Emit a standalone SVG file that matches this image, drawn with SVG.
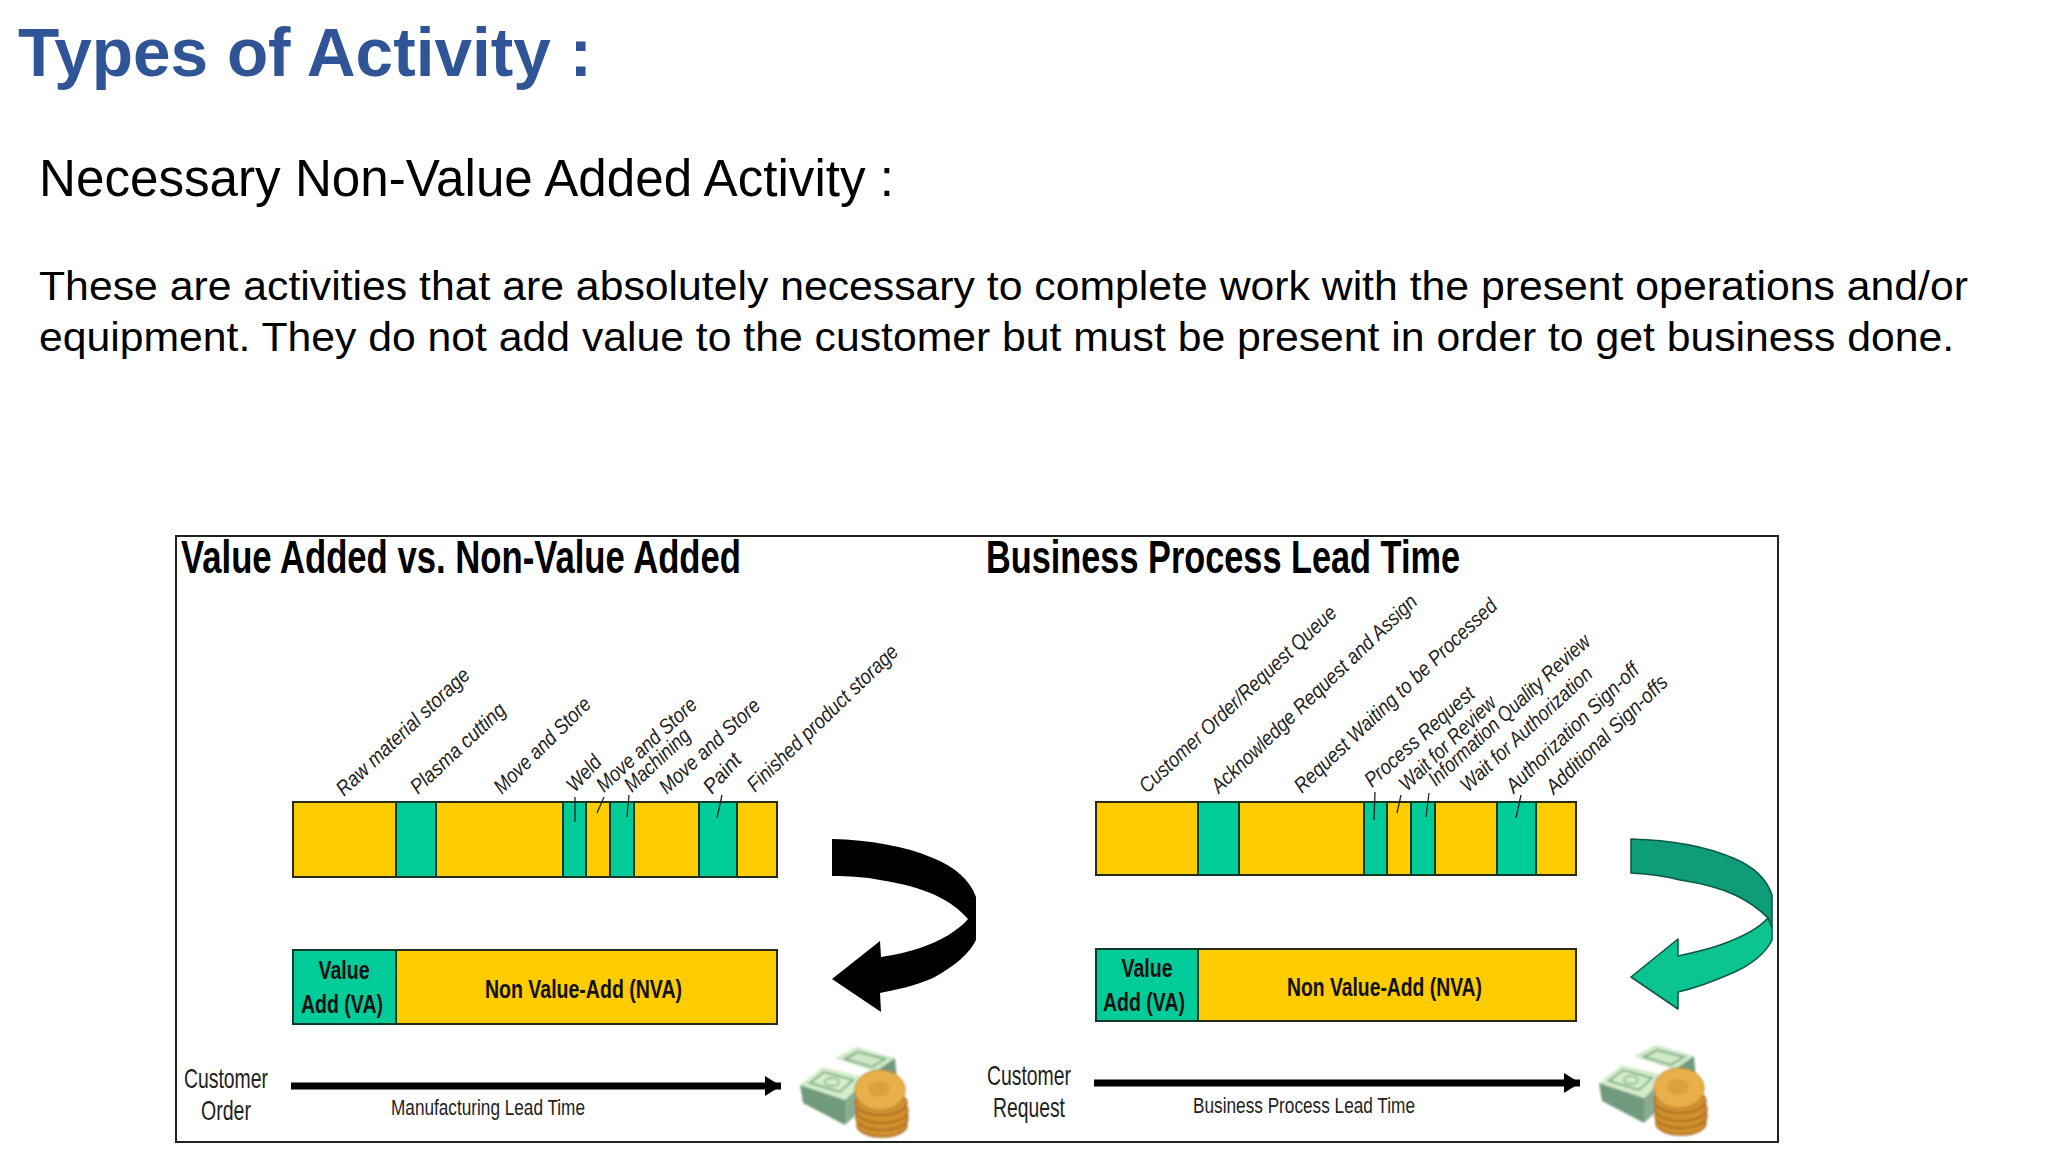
<svg xmlns="http://www.w3.org/2000/svg" xmlns:xlink="http://www.w3.org/1999/xlink" width="2048" height="1152" viewBox="0 0 2048 1152">
<style>
text{font-family:"Liberation Sans",Arial,sans-serif;fill:#000}
.t1{font-size:68px;font-weight:700;fill:#2f5597}
.t2{font-size:51px}
.t3{font-size:41px}
.h{font-size:46px;font-weight:700}
.l{font-size:21px;font-style:italic;fill:#222}
.n{font-size:26px;font-weight:700;fill:#111}
.c{font-size:28px;fill:#222}
.s{font-size:22px;fill:#222}
.y{fill:#ffcc00;stroke:#2a2a10;stroke-width:2}
.g{fill:#00cc99;stroke:#0a3a2a;stroke-width:2}
.ld{stroke:#222;stroke-width:1.3;fill:none}
.sh{stroke:#000;stroke-width:7;fill:none;marker-end:url(#ah)}
</style>
<defs>
<marker id="ah" markerUnits="userSpaceOnUse" markerWidth="18" markerHeight="22" refX="16" refY="11" orient="auto">
<path d="M0 1L16 11L0 21Z" fill="#000"/>
</marker>
<filter id="soft" x="-5%" y="-5%" width="110%" height="110%"><feGaussianBlur stdDeviation="0.9"/></filter>
<g id="money" filter="url(#soft)">
<path d="M835 1058L857 1047L895 1058L875 1072Z" fill="#cfe8c6"/>
<path d="M895 1058L897 1082L865 1085L875 1072Z" fill="#6f9a7d"/>
<path d="M800 1085L823 1067L868 1078L845 1100Z" fill="#d4ecc9"/>
<path d="M800 1085L845 1100L845 1125L803 1103Z" fill="#6f9a7d"/>
<path d="M845 1100L868 1078L872 1100L845 1125Z" fill="#88ad90"/>
<path d="M810 1083L824 1072L853 1080L840 1092Z" fill="none" stroke="#7fb08c" stroke-width="2"/>
<ellipse cx="832" cy="1082" rx="7" ry="4" fill="none" stroke="#7fb08c" stroke-width="1.5"/>
<path d="M845 1059L858 1052L885 1059L872 1067Z" fill="none" stroke="#7fb08c" stroke-width="2"/>
<g fill="#d0902f" stroke="#a5651c" stroke-width="1.5">
<ellipse cx="882" cy="1125" rx="25" ry="12"/>
<ellipse cx="882" cy="1118" rx="26" ry="12"/>
<ellipse cx="882" cy="1111" rx="26" ry="12"/>
<ellipse cx="881" cy="1103" rx="26" ry="12"/>
</g>
<ellipse cx="880" cy="1090" rx="25" ry="20" fill="#e8b04a" stroke="#b9802a" stroke-width="1"/>
<ellipse cx="879" cy="1089" rx="11" ry="8" fill="#dca03c"/>
</g>
</defs>
<rect width="2048" height="1152" fill="#fff"/>

<g id="heading">
<text class="t1" x="18" y="76" textLength="574" lengthAdjust="spacingAndGlyphs">Types of Activity :</text>
<text class="t2" x="39" y="196" textLength="855" lengthAdjust="spacingAndGlyphs">Necessary Non-Value Added Activity :</text>
<text class="t3" x="39" y="300" textLength="1929" lengthAdjust="spacingAndGlyphs">These are activities that are absolutely necessary to complete work with the present operations and/or</text>
<text class="t3" x="39" y="351" textLength="1915" lengthAdjust="spacingAndGlyphs">equipment. They do not add value to the customer but must be present in order to get business done.</text>
</g>

<rect id="frame" x="176" y="536" width="1602" height="606" fill="#fff" stroke="#222" stroke-width="2"/>

<g id="left-title"><text class="h" x="181" y="573" textLength="560" lengthAdjust="spacingAndGlyphs">Value Added vs. Non-Value Added</text></g>
<g id="right-title"><text class="h" x="986" y="573" textLength="474" lengthAdjust="spacingAndGlyphs">Business Process Lead Time</text></g>

<g id="left-timeline">
<rect class="y" x="293" y="802" width="484" height="75"/>
<rect class="g" x="396" y="802" width="40" height="75"/>
<rect class="g" x="563" y="802" width="23" height="75"/>
<rect class="g" x="610" y="802" width="24" height="75"/>
<rect class="g" x="699" y="802" width="38" height="75"/>
</g>
<g id="left-labels">
<text class="l" transform="translate(344,797) rotate(-43.4)" textLength="175" lengthAdjust="spacingAndGlyphs">Raw material storage</text>
<text class="l" transform="translate(418,795) rotate(-43)" textLength="122" lengthAdjust="spacingAndGlyphs">Plasma cutting</text>
<text class="l" transform="translate(502,795) rotate(-44.7)" textLength="127" lengthAdjust="spacingAndGlyphs">Move and Store</text>
<text class="l" transform="translate(575,793) rotate(-47)" textLength="41" lengthAdjust="spacingAndGlyphs">Weld</text>
<text class="l" transform="translate(604,793) rotate(-42.5)" textLength="128" lengthAdjust="spacingAndGlyphs">Move and Store</text>
<text class="l" transform="translate(632,793) rotate(-43)" textLength="82" lengthAdjust="spacingAndGlyphs">Machining</text>
<text class="l" transform="translate(667,795) rotate(-42.8)" textLength="129" lengthAdjust="spacingAndGlyphs">Move and Store</text>
<text class="l" transform="translate(712,795) rotate(-48)" textLength="46" lengthAdjust="spacingAndGlyphs">Paint</text>
<text class="l" transform="translate(755,793) rotate(-44)" textLength="201" lengthAdjust="spacingAndGlyphs">Finished product storage</text>
</g>
<g id="left-summary">
<rect class="y" x="293" y="950" width="484" height="74"/>
<rect class="g" x="293" y="950" width="103" height="74"/>
<text class="n" x="344" y="979" text-anchor="middle" textLength="51" lengthAdjust="spacingAndGlyphs">Value</text>
<text class="n" x="342" y="1013" text-anchor="middle" textLength="82" lengthAdjust="spacingAndGlyphs">Add (VA)</text>
<text class="n" x="485" y="998" textLength="197" lengthAdjust="spacingAndGlyphs">Non Value-Add (NVA)</text>
</g>
<g id="left-start">
<text class="c" x="184" y="1088" textLength="84" lengthAdjust="spacingAndGlyphs">Customer</text>
<text class="c" x="201" y="1120" textLength="50" lengthAdjust="spacingAndGlyphs">Order</text>
</g>
<text id="left-leadtime" class="s" x="391" y="1115" textLength="194" lengthAdjust="spacingAndGlyphs">Manufacturing Lead Time</text>
<use id="left-money" xlink:href="#money" href="#money"/>

<g id="right-timeline">
<rect class="y" x="1096" y="802" width="480" height="73"/>
<rect class="g" x="1198" y="802" width="41" height="73"/>
<rect class="g" x="1364" y="802" width="23" height="73"/>
<rect class="g" x="1411" y="802" width="24" height="73"/>
<rect class="g" x="1497" y="802" width="39" height="73"/>
</g>
<g id="right-labels">
<text class="l" transform="translate(1147,794) rotate(-43.2)" textLength="262" lengthAdjust="spacingAndGlyphs">Customer Order/Request Queue</text>
<text class="l" transform="translate(1219,794) rotate(-43.7)" textLength="276" lengthAdjust="spacingAndGlyphs">Acknowledge Request and Assign</text>
<text class="l" transform="translate(1302,794) rotate(-43.5)" textLength="271" lengthAdjust="spacingAndGlyphs">Request Waiting to be Processed</text>
<text class="l" transform="translate(1372,788) rotate(-41.5)" textLength="139" lengthAdjust="spacingAndGlyphs">Process Request</text>
<text class="l" transform="translate(1407,792) rotate(-44)" textLength="126" lengthAdjust="spacingAndGlyphs">Wait for Review</text>
<text class="l" transform="translate(1436,787) rotate(-42.7)" textLength="212" lengthAdjust="spacingAndGlyphs">Information Quality Review</text>
<text class="l" transform="translate(1468,793) rotate(-43)" textLength="172" lengthAdjust="spacingAndGlyphs">Wait for Authorization</text>
<text class="l" transform="translate(1514,794) rotate(-44)" textLength="176" lengthAdjust="spacingAndGlyphs">Authorization Sign-off</text>
<text class="l" transform="translate(1554,795) rotate(-44)" textLength="160" lengthAdjust="spacingAndGlyphs">Additional Sign-offs</text>
</g>
<g id="right-summary">
<rect class="y" x="1096" y="949" width="480" height="72"/>
<rect class="g" x="1096" y="949" width="102" height="72"/>
<text class="n" x="1147" y="977" text-anchor="middle" textLength="51" lengthAdjust="spacingAndGlyphs">Value</text>
<text class="n" x="1144" y="1011" text-anchor="middle" textLength="82" lengthAdjust="spacingAndGlyphs">Add (VA)</text>
<text class="n" x="1287" y="996" textLength="195" lengthAdjust="spacingAndGlyphs">Non Value-Add (NVA)</text>
</g>
<g id="right-start">
<text class="c" x="987" y="1085" textLength="84" lengthAdjust="spacingAndGlyphs">Customer</text>
<text class="c" x="993" y="1117" textLength="72" lengthAdjust="spacingAndGlyphs">Request</text>
</g>
<text id="right-leadtime" class="s" x="1193" y="1113" textLength="222" lengthAdjust="spacingAndGlyphs">Business Process Lead Time</text>
<use id="right-money" xlink:href="#money" href="#money" transform="translate(799,-2)"/>

<g id="connectors">
<path class="ld" d="M575 797L575 822"/>
<path class="ld" d="M604 797L597 813"/>
<path class="ld" d="M629 795L627 817"/>
<path class="ld" d="M722 795L717 818"/>
<path class="ld" d="M1375 792L1374 820"/>
<path class="ld" d="M1401 795L1397 813"/>
<path class="ld" d="M1429 793L1426 817"/>
<path class="ld" d="M1521 795L1516 818"/>
<path class="sh" d="M291 1086L781 1086"/>
<path class="sh" d="M1094 1083L1580 1083"/>
<path id="arrow-black" fill="#000" d="M832 839C870 840 905 846 933 858C955 867 970 880 976 897L976 940C970 953 955 966 933 978C915 986 895 990 880 993L881 1012L832 979L880 941L881 957C895 955 908 952 920 948C940 941 958 931 968 919C960 910 950 902 935 895C920 888 900 883 880 880C865 877 850 876 832 876Z"/>
<g id="arrow-green" stroke="#0b5a45" stroke-width="1.6" stroke-linejoin="round">
<path fill="#0f9c78" d="M1631 839C1670 840 1705 846 1733 858C1755 867 1767 880 1772 895L1772 928L1768 918C1760 910 1750 902 1735 895C1720 888 1700 883 1680 880C1665 876 1650 874 1631 873Z"/>
<path fill="#0cc48f" d="M1768 918L1772 928L1772 940C1766 953 1750 966 1730 974C1712 982 1695 988 1678 992L1678 1009L1631 977L1678 939L1678 956C1692 953 1706 950 1720 945C1740 938 1758 929 1768 918Z"/>
</g>
</g>
</svg>
